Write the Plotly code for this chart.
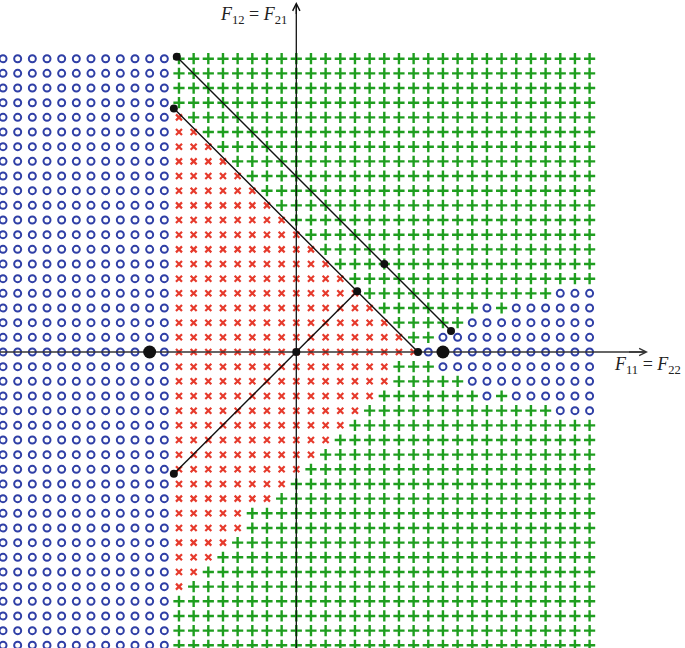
import plotly.graph_objects as go

# Grid sample values (F11=F22 along x, F12=F21 along y), 41 x 41 points
grid_steps = list(range(-20, 21))
grid_values = [round(s * 0.1, 1) for s in grid_steps]

# Classification read row by row (top row y=2.0 first), run-length encoded,
# left to right from x=-2.0: o = blue circle, x = red cross, + = green plus
rows_rle = [
    "o12 +29", "o12 +29", "o12 +29", "o12 +29",
    "o12 x1 +28", "o12 x2 +27", "o12 x3 +26", "o12 x4 +25",
    "o12 x5 +24", "o12 x6 +23", "o12 x7 +22", "o12 x8 +21",
    "o12 x9 +20", "o12 x10 +19", "o12 x11 +18", "o12 x12 +17",
    "o12 x13 +13 o3", "o12 x14 +7 o1 +1 o6", "o12 x15 +5 o9", "o12 x16 +2 o11",
    "o12 x17 o12",
    "o12 x15 +3 o11", "o12 x15 +5 o9", "o12 x14 +7 o1 +1 o6", "o12 x13 +13 o3",
    "o12 x12 +17", "o12 x11 +18", "o12 x10 +19", "o12 x9 +20",
    "o12 x8 +21", "o12 x7 +22", "o12 x5 +24", "o12 x5 +24",
    "o12 x4 +25", "o12 x3 +26", "o12 x2 +27", "o12 x1 +28",
    "o12 +29", "o12 +29", "o12 +29", "o12 +29",
]

# Black polylines
upper_line_x = [-0.815, 0.6, 1.055]
upper_line_y = [2.013, 0.6, 0.143]
lower_line_x = [-0.835, 0.415, 0.83]
lower_line_y = [1.66, 0.415, 0.0]
diag_line_x = [-0.835, 0.0, 0.415]
diag_line_y = [-0.83, 0.0, 0.415]

small_dots_x = [-0.815, 0.6, 1.055, -0.835, 0.415, 0.83, -0.835, 0.0]
small_dots_y = [2.013, 0.6, 0.143, 1.66, 0.415, 0.0, -0.83, 0.0]
big_dots_x = [-1.0, 1.0]
big_dots_y = [0.0, 0.0]

x_label = "<i>F</i><sub>11</sub> = <i>F</i><sub>22</sub>"
y_label = "<i>F</i><sub>12</sub> = <i>F</i><sub>21</sub>"

# decode grid
pts = {"o": ([], []), "x": ([], []), "+": ([], [])}
y_vals_top_down = list(reversed(grid_values))
for yv, rle in zip(y_vals_top_down, rows_rle):
    chars = ""
    for tok in rle.split():
        chars += tok[0] * int(tok[1:])
    for xv, c in zip(grid_values, chars):
        pts[c][0].append(xv)
        pts[c][1].append(yv)

BLUE = "#2f3fa6"
RED = "#e63a2c"
GREEN = "#1f9e1f"

fig = go.Figure()
fig.add_trace(go.Scatter(x=pts["o"][0], y=pts["o"][1], mode="markers",
                         marker=dict(symbol="circle-open", size=7, color=BLUE,
                                     line=dict(width=2, color=BLUE))))
fig.add_trace(go.Scatter(x=pts["x"][0], y=pts["x"][1], mode="markers",
                         marker=dict(symbol="x-thin", size=6, color=RED,
                                     line=dict(width=2.2, color=RED))))
fig.add_trace(go.Scatter(x=pts["+"][0], y=pts["+"][1], mode="markers",
                         marker=dict(symbol="cross-thin", size=8, color=GREEN,
                                     line=dict(width=2.4, color=GREEN))))

x0, x1 = -296.3 / 146.65, (685 - 296.3) / 146.65
y0, y1 = (352 - 648) / 146.65, 352 / 146.65
x_tip = (648 - 296.3) / 146.65
y_tip = (352 - 2) / 146.65

# axes
fig.add_trace(go.Scatter(x=[x0, x_tip - 0.02], y=[0, 0], mode="lines",
                         line=dict(color="#333333", width=1.6)))
fig.add_trace(go.Scatter(x=[0, 0], y=[y0, y_tip - 0.02], mode="lines",
                         line=dict(color="#111111", width=1.3)))

for lx, ly in [(upper_line_x, upper_line_y), (lower_line_x, lower_line_y),
               (diag_line_x, diag_line_y)]:
    fig.add_trace(go.Scatter(x=lx, y=ly, mode="lines",
                             line=dict(color="#111111", width=1.4)))

fig.add_trace(go.Scatter(x=small_dots_x, y=small_dots_y, mode="markers",
                         marker=dict(size=8, color="#111111")))
fig.add_trace(go.Scatter(x=big_dots_x, y=big_dots_y, mode="markers",
                         marker=dict(size=13, color="#111111")))

# arrowheads
fig.add_annotation(x=x_tip, y=0, ax=x_tip - 0.15, ay=0, xref="x", yref="y",
                   axref="x", ayref="y", text=" ", showarrow=True,
                   arrowhead=5, arrowsize=1.1, arrowwidth=1.3, arrowcolor="#333333")
fig.add_annotation(x=0, y=y_tip, ax=0, ay=y_tip - 0.15, xref="x", yref="y",
                   axref="x", ayref="y", text=" ", showarrow=True,
                   arrowhead=5, arrowsize=1.1, arrowwidth=1.3, arrowcolor="#111111")

fig.add_annotation(x=(612 - 296.3) / 146.65, y=(352 - 365) / 146.65, text=x_label,
                   showarrow=False, xanchor="left", yanchor="middle",
                   font=dict(family="Liberation Serif", size=18, color="#222222"))
fig.add_annotation(x=(289 - 296.3) / 146.65, y=(352 - 15) / 146.65, text=y_label,
                   showarrow=False, xanchor="right", yanchor="middle",
                   font=dict(family="Liberation Serif", size=18, color="#222222"))

fig.update_layout(
    width=685, height=648, margin=dict(l=0, r=0, t=0, b=0),
    paper_bgcolor="white", plot_bgcolor="white", showlegend=False,
    xaxis=dict(range=[x0, x1], visible=False, fixedrange=True),
    yaxis=dict(range=[y0, y1], visible=False, fixedrange=True),
)

fig.write_html("out.html", config={"displayModeBar": False},
               post_script="document.body.style.margin='0';document.body.style.overflow='hidden';")
